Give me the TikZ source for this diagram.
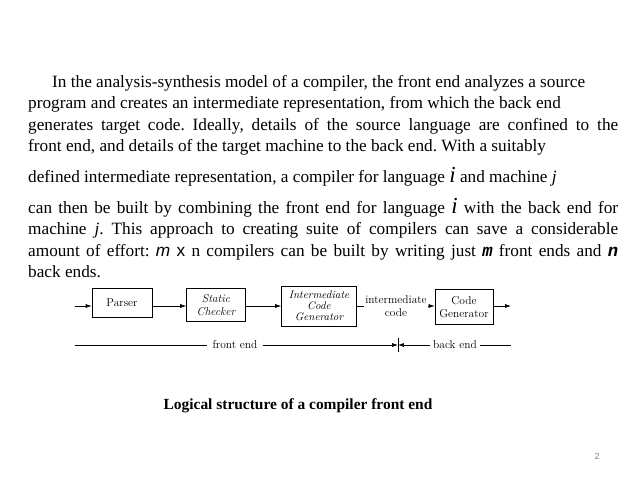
\documentclass[tikz,border=0pt]{standalone}
\usepackage{fontspec}
\usetikzlibrary{arrows.meta}
\setmainfont{Liberation Serif}
\newfontfamily\lmr{Latin Modern Roman}
\newfontfamily\sans{Liberation Sans}
\newfontfamily\mono{Liberation Mono}
\frenchspacing
\begin{document}
\begin{tikzpicture}[x=1bp,y=-1bp,
  txt/.style={anchor=base west,inner sep=0pt,font=\fontsize{17.3}{19}\selectfont},
  blk/.style={draw,line width=0.6pt,minimum height=29bp,align=center,inner sep=1pt,font=\lmr\fontsize{11.5}{12.5}\selectfont},
  arr/.style={-{Latex[length=6pt,width=4pt]},line width=0.6pt},
  lbl/.style={font=\lmr\fontsize{11.5}{12.5}\selectfont,inner sep=1pt}]
\useasboundingbox (0,0) rectangle (638,478);
\node[txt] (l1) at (52,88) {In the analysis-synthesis model of a compiler, the front end analyzes a source};
\node[txt] (l2) at (28,109) {program and creates an intermediate representation, from which the back end};
\node[txt] (l3) at (28,131) {\makebox[590bp][s]{generates target code. Ideally, details of the source language are confined to the}};
\node[txt] (l4) at (28,152) {front end, and details of the target machine to the back end. With a suitably};
\node[txt] (l5) at (28,183) {defined intermediate representation, a compiler for language {\fontsize{23}{23}\selectfont\itshape i} and machine {\itshape j}};
\node[txt] (l6) at (28,214) {\makebox[590bp][s]{can then be built by combining the front end for language {\fontsize{23}{23}\selectfont\itshape i} with the back end for}};
\node[txt] (l7) at (28,235) {\makebox[590bp][s]{machine {\itshape j}. This approach to creating suite of compilers can save a considerable}};
\node[txt] (l8) at (28,256) {\makebox[590bp][s]{amount of effort: {\sans\itshape m} {\sans x} n compilers can be built by writing just {\mono\bfseries\itshape m} front ends and {\mono\bfseries\itshape n}}};
\node[txt] (l9) at (28,277) {back ends.};

\node[blk,minimum width=60bp] (p) at (122,303) {Parser};
\node[blk,minimum width=59bp,minimum height=33bp] (s) at (216,305) {\itshape Static\\\itshape Checker};
\node[blk,minimum width=75bp,minimum height=40bp,font=\lmr\fontsize{11}{11.3}\selectfont] (i) at (319,306) {\itshape Intermediate\\\itshape Code\\\itshape Generator};
\node[blk,minimum width=58bp,minimum height=35bp] (c) at (464,307) {Code\\Generator};
\node[lbl,align=center] (ic) at (396,306) {intermediate\\code};
\coordinate (in) at (75,306);
\coordinate (out) at (511,306);
\draw[arr] (in) -- (p.west |- in);
\draw[arr] (p.east |- in) -- (s.west |- in);
\draw[arr] (s.east |- in) -- (i.west |- in);
\draw[line width=0.5pt] (i.east |- in) -- (ic.west |- in);
\draw[arr] (ic.east |- in) -- (c.west |- in);
\draw[arr] (c.east |- in) -- (out);

\node[lbl,inner sep=5pt] (fe) at (235,345) {front end};
\node[lbl,inner sep=3pt] (be) at (455,345) {back end};
\coordinate (a) at (75,345);
\coordinate (m) at (398,345);
\coordinate (b) at (511,345);
\draw[line width=0.4pt] (a) -- (fe.west);
\draw[arr] (fe.east) -- (m);
\draw[line width=0.4pt] (m) ++(0,-7) -- ++(0,14);
\draw[arr] (be.west) -- (m);
\draw[line width=0.4pt] (be.east) -- (b);

\node[anchor=base,font=\bfseries\fontsize{15.5}{17}\selectfont] (cap) at (298,409) {Logical structure of a compiler front end};
\node[font=\sans\fontsize{9}{10}\selectfont,text=gray] (pg) at (597,456) {2};
\end{tikzpicture}
\end{document}
